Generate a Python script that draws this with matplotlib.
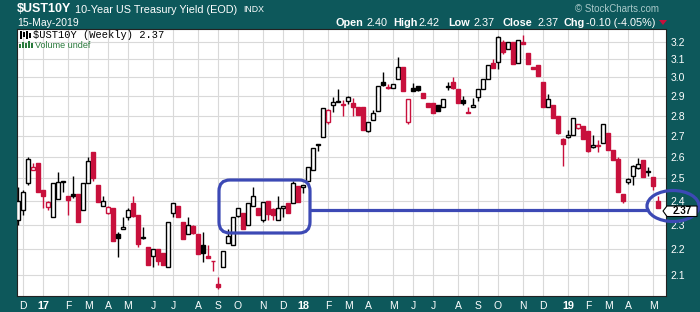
import matplotlib
matplotlib.use('Agg')
import matplotlib.pyplot as plt
from matplotlib.patches import FancyBboxPatch, Ellipse, Polygon, Rectangle
from matplotlib.transforms import IdentityTransform
import numpy as np
import pandas as pd

# weekly candles, week of 28-Nov-2016 .. week of 13-May-2019
first_week = '2016-11-28'
opens = [2.32, 2.36, 2.48, 2.54, 2.57, 2.45, 2.375, 2.33, 2.41, 2.485,
         2.42, 2.43, 2.43, 2.36, 2.48, 2.62, 2.47, 2.38, 2.35, 2.37,
         2.26, 2.28, 2.33, 2.39, 2.34, 2.245, 2.21, 2.175, 2.20, 2.185,
         2.13, 2.35, 2.38, 2.31, 2.26, 2.295, 2.26, 2.215, 2.175, 2.155,
         2.067, 2.13, 2.225, 2.215, 2.335, 2.35, 2.30, 2.38, 2.37, 2.32,
         2.40, 2.365, 2.32, 2.37, 2.39, 2.39, 2.465, 2.46, 2.49, 2.54,
         2.657, 2.695, 2.77, 2.855, 2.87, 2.86, 2.873, 2.865, 2.845, 2.845,
         2.723, 2.776, 2.824, 2.977, 2.949, 2.943, 2.99, 3.058, 2.768, 2.942,
         2.955, 2.919, 2.867, 2.867, 2.855, 2.845, 2.95, 2.977, 2.94, 2.879,
         2.818, 2.845, 2.897, 2.937, 2.99, 3.078, 3.087, 3.20, 3.16, 3.20,
         3.077, 3.20, 3.134, 3.057, 3.07, 2.977, 2.845, 2.855, 2.80, 2.684,
         2.694, 2.705, 2.738, 2.75, 2.725, 2.645, 2.655, 2.664, 2.713, 2.63,
         2.59, 2.43, 2.483, 2.51, 2.548, 2.586, 2.53, 2.506, 2.40]
highs = [2.46, 2.45, 2.60, 2.57, 2.57, 2.45, 2.40, 2.48, 2.53, 2.49,
         2.42, 2.51, 2.43, 2.48, 2.60, 2.62, 2.47, 2.42, 2.38, 2.37,
         2.27, 2.33, 2.37, 2.42, 2.34, 2.29, 2.21, 2.20, 2.20, 2.185,
         2.31, 2.39, 2.38, 2.31, 2.33, 2.30, 2.26, 2.27, 2.215, 2.155,
         2.094, 2.195, 2.28, 2.33, 2.37, 2.35, 2.39, 2.46, 2.37, 2.395,
         2.40, 2.37, 2.42, 2.38, 2.39, 2.49, 2.465, 2.47, 2.55, 2.64,
         2.66, 2.84, 2.835, 2.895, 2.94, 2.88, 2.90, 2.89, 2.845, 2.845,
         2.768, 2.83, 2.955, 3.03, 2.965, 2.963, 3.11, 3.058, 2.888, 2.97,
         2.955, 2.919, 2.867, 2.867, 2.855, 2.888, 2.975, 3.00, 2.94, 2.90,
         2.845, 2.89, 2.937, 2.99, 3.07, 3.10, 3.23, 3.21, 3.197, 3.20,
         3.21, 3.24, 3.134, 3.057, 3.07, 2.977, 2.91, 2.855, 2.80, 2.69,
         2.73, 2.79, 2.76, 2.75, 2.725, 2.705, 2.68, 2.76, 2.713, 2.63,
         2.60, 2.43, 2.50, 2.56, 2.595, 2.586, 2.55, 2.506, 2.42]
lows = [2.30, 2.34, 2.47, 2.54, 2.44, 2.37, 2.36, 2.33, 2.41, 2.44,
        2.34, 2.415, 2.31, 2.36, 2.48, 2.49, 2.395, 2.38, 2.345, 2.235,
        2.17, 2.28, 2.32, 2.33, 2.21, 2.24, 2.14, 2.13, 2.14, 2.14,
        2.13, 2.33, 2.33, 2.24, 2.26, 2.26, 2.18, 2.15, 2.165, 2.115,
        2.046, 2.13, 2.225, 2.215, 2.33, 2.28, 2.30, 2.38, 2.34, 2.31,
        2.32, 2.32, 2.32, 2.33, 2.35, 2.39, 2.395, 2.435, 2.49, 2.54,
        2.625, 2.695, 2.76, 2.82, 2.87, 2.80, 2.86, 2.80, 2.805, 2.73,
        2.72, 2.776, 2.824, 2.955, 2.94, 2.943, 2.99, 2.93, 2.76, 2.925,
        2.928, 2.893, 2.845, 2.812, 2.824, 2.845, 2.935, 2.94, 2.864, 2.855,
        2.815, 2.845, 2.877, 2.937, 2.99, 3.05, 3.045, 3.13, 3.16, 3.076,
        3.077, 3.185, 3.076, 3.044, 3.008, 2.845, 2.845, 2.79, 2.71, 2.555,
        2.69, 2.705, 2.735, 2.683, 2.62, 2.64, 2.62, 2.664, 2.63, 2.585,
        2.44, 2.39, 2.475, 2.47, 2.545, 2.506, 2.51, 2.45, 2.37]
closes = [2.40, 2.44, 2.59, 2.55, 2.44, 2.42, 2.395, 2.48, 2.485, 2.487,
          2.405, 2.42, 2.31, 2.48, 2.58, 2.50, 2.395, 2.40, 2.375, 2.235,
          2.245, 2.29, 2.36, 2.335, 2.22, 2.25, 2.14, 2.20, 2.155, 2.14,
          2.31, 2.39, 2.33, 2.24, 2.30, 2.265, 2.18, 2.185, 2.165, 2.152,
          2.055, 2.195, 2.255, 2.33, 2.37, 2.28, 2.39, 2.42, 2.34, 2.395,
          2.345, 2.34, 2.37, 2.378, 2.35, 2.48, 2.395, 2.47, 2.55, 2.64,
          2.66, 2.84, 2.83, 2.868, 2.875, 2.855, 2.897, 2.845, 2.805, 2.73,
          2.768, 2.814, 2.955, 2.958, 2.943, 2.963, 3.058, 2.93, 2.888, 2.928,
          2.932, 2.893, 2.845, 2.812, 2.825, 2.888, 2.952, 2.942, 2.864, 2.867,
          2.815, 2.856, 2.937, 2.99, 3.07, 3.05, 3.227, 3.14, 3.197, 3.076,
          3.21, 3.187, 3.076, 3.045, 3.008, 2.845, 2.888, 2.79, 2.712, 2.66,
          2.705, 2.788, 2.758, 2.683, 2.625, 2.655, 2.65, 2.758, 2.63, 2.585,
          2.44, 2.40, 2.497, 2.555, 2.566, 2.506, 2.535, 2.466, 2.37]

y_ticks = [2.1, 2.2, 2.3, 2.4, 2.5, 2.6, 2.7, 2.8, 2.9, 3.0, 3.1, 3.2]
support_level = 2.362
last_close = 2.37

TEAL = '#0d585b'
RED = '#c8103c'
BLUE = '#3c49b5'
W, H = 700, 312

dates = pd.date_range(first_week, periods=len(closes), freq='W-MON')
x = np.arange(len(closes))
o = np.array(opens); c = np.array(closes)
hi = np.array(highs); lo = np.array(lows)
prev = np.concatenate([[o[0]], c[:-1]])
up = c >= prev          # black vs red
hollow = c >= o         # hollow vs filled

fig = plt.figure(figsize=(W / 100, H / 100), dpi=100, facecolor=TEAL)
ax = fig.add_axes([17 / W, 16 / H, 649 / W, 267 / H])
ax.set_facecolor('white')

ax.set_yscale('log')
ax.set_ylim(2.022, 3.274)
ax.set_xlim(-0.2, 129.6)

# month gridlines: first week whose Monday falls in a new month
month_idx = [i for i in range(1, len(dates)) if dates[i].month != dates[i - 1].month]
month_lab = [("%02d" % (dates[i].year % 100)) if dates[i].month == 1 else dates[i].strftime('%b')[0]
             for i in month_idx]
ax.set_xticks(month_idx)
ax.set_xticklabels(month_lab)
ax.set_yticks(y_ticks)
ax.set_yticklabels(['%.1f' % v for v in y_ticks])
ax.yaxis.set_minor_locator(matplotlib.ticker.NullLocator())
ax.yaxis.tick_right()
ax.tick_params(axis='both', length=0, colors='white', labelsize=7.5, pad=3)
ax.tick_params(axis='x', pad=3.5)
for t in ax.get_xticklabels() + ax.get_yticklabels():
    t.set_fontfamily('Liberation Sans')
for i, t in zip(month_idx, ax.get_xticklabels()):
    if dates[i].month == 1:
        t.set_fontweight('bold')
        t.set_fontsize(7.8)
ax.grid(True, color='#d9d9d9', lw=0.8)
ax.set_axisbelow(True)
for s in ax.spines.values():
    s.set_color('#222222')
    s.set_linewidth(0.8)

# candles
wick_col = np.where(up, 'black', RED)
ax.vlines(x, lo, hi, colors=wick_col, lw=1.0, zorder=2)
face = [('white' if h else col) for h, col in zip(hollow, wick_col)]
ax.bar(x, np.abs(c - o), bottom=np.minimum(o, c), width=0.72,
       color=face, edgecolor=wick_col, linewidth=1.0, zorder=3)

# support line and highlight box
ax.hlines(support_level, 58.4, 126.2, colors=BLUE, lw=2.3, zorder=4)
ident = IdentityTransform()
box = FancyBboxPatch((219, H - 233), 91, 53, boxstyle='round,pad=0,rounding_size=11',
                     fill=False, ec=BLUE, lw=2.3, transform=ident, zorder=5)
fig.patches.append(box)
ring = Ellipse((673, H - 206), 52, 31, fill=False, ec=BLUE, lw=2.3,
               transform=ident, zorder=6)
fig.patches.append(ring)

# last price tag
tag = Polygon([(663, H - 211), (667, H - 206), (697, H - 206), (697, H - 216.5), (667, H - 216.5)],
              closed=True, fc='white', ec='black', lw=0.8, transform=ident, zorder=7)
fig.patches.append(tag)
fig.text(682 / W, 1 - 211.5 / H, '%.2f' % last_close, ha='center', va='center',
         fontsize=7, fontweight='bold', family='Liberation Sans', zorder=8)

# header
fig.text(17 / W, 1 - 9.5 / H, '$UST10Y', color='white', fontsize=9, fontweight='bold',
         family='Liberation Sans', va='center')
fig.text(75 / W, 1 - 10 / H, '10-Year US Treasury Yield (EOD)', color='white', fontsize=7.8,
         family='Liberation Sans', va='center')
fig.text(243 / W, 1 - 10 / H, 'INDX', color='white', fontsize=6.3,
         family='Liberation Sans', va='center')
fig.text(17 / W, 1 - 23 / H, '15-May-2019', color='white', fontsize=7.5,
         family='Liberation Sans', va='center')
fig.text(575 / W, 1 - 9 / H, '\u00a9 StockCharts.com', color='#a9c9c9', fontsize=7,
         family='Liberation Sans', va='center')
hdr = [(335, 'Open', True), (366, '2.40', False), (393, 'High', True), (418, '2.42', False),
       (448, 'Low', True), (474, '2.37', False), (502, 'Close', True), (537, '2.37', False),
       (563, 'Chg', True), (586, '-0.10 (-4.05%)', False)]
for px, s, b in hdr:
    fig.text(px / W, 1 - 22.5 / H, s, color='white', fontsize=7.8,
             fontweight='bold' if b else 'normal', family='Liberation Sans', va='center')
fig.patches.append(Polygon([(659, H - 20), (667, H - 20), (663, H - 25)], closed=True,
                           fc=RED, ec='none', transform=ident))

# legend inside plot
fig.text(33 / W, 1 - 35.5 / H, '$UST10Y (Weekly) 2.37', color='black', fontsize=7.5,
         family='Liberation Mono', va='center')
for px, y0, y1 in [(20, 31, 39), (23, 32, 37), (26, 31, 39), (29, 33, 38)]:
    fig.patches.append(Rectangle((px, H - y1), 1.6, y1 - y0, fc='black', transform=ident))
fig.text(35 / W, 1 - 45 / H, 'Volume undef', color='#2a7a3c', fontsize=6.5,
         family='Liberation Sans', va='center')
for px, hgt in [(19, 4), (22, 6), (25, 5), (28, 7), (31, 5)]:
    fig.patches.append(Rectangle((px, H - 48), 1.8, hgt, fc='#2a7a3c', transform=ident))

fig.savefig('out.png', dpi=100, facecolor=TEAL)
